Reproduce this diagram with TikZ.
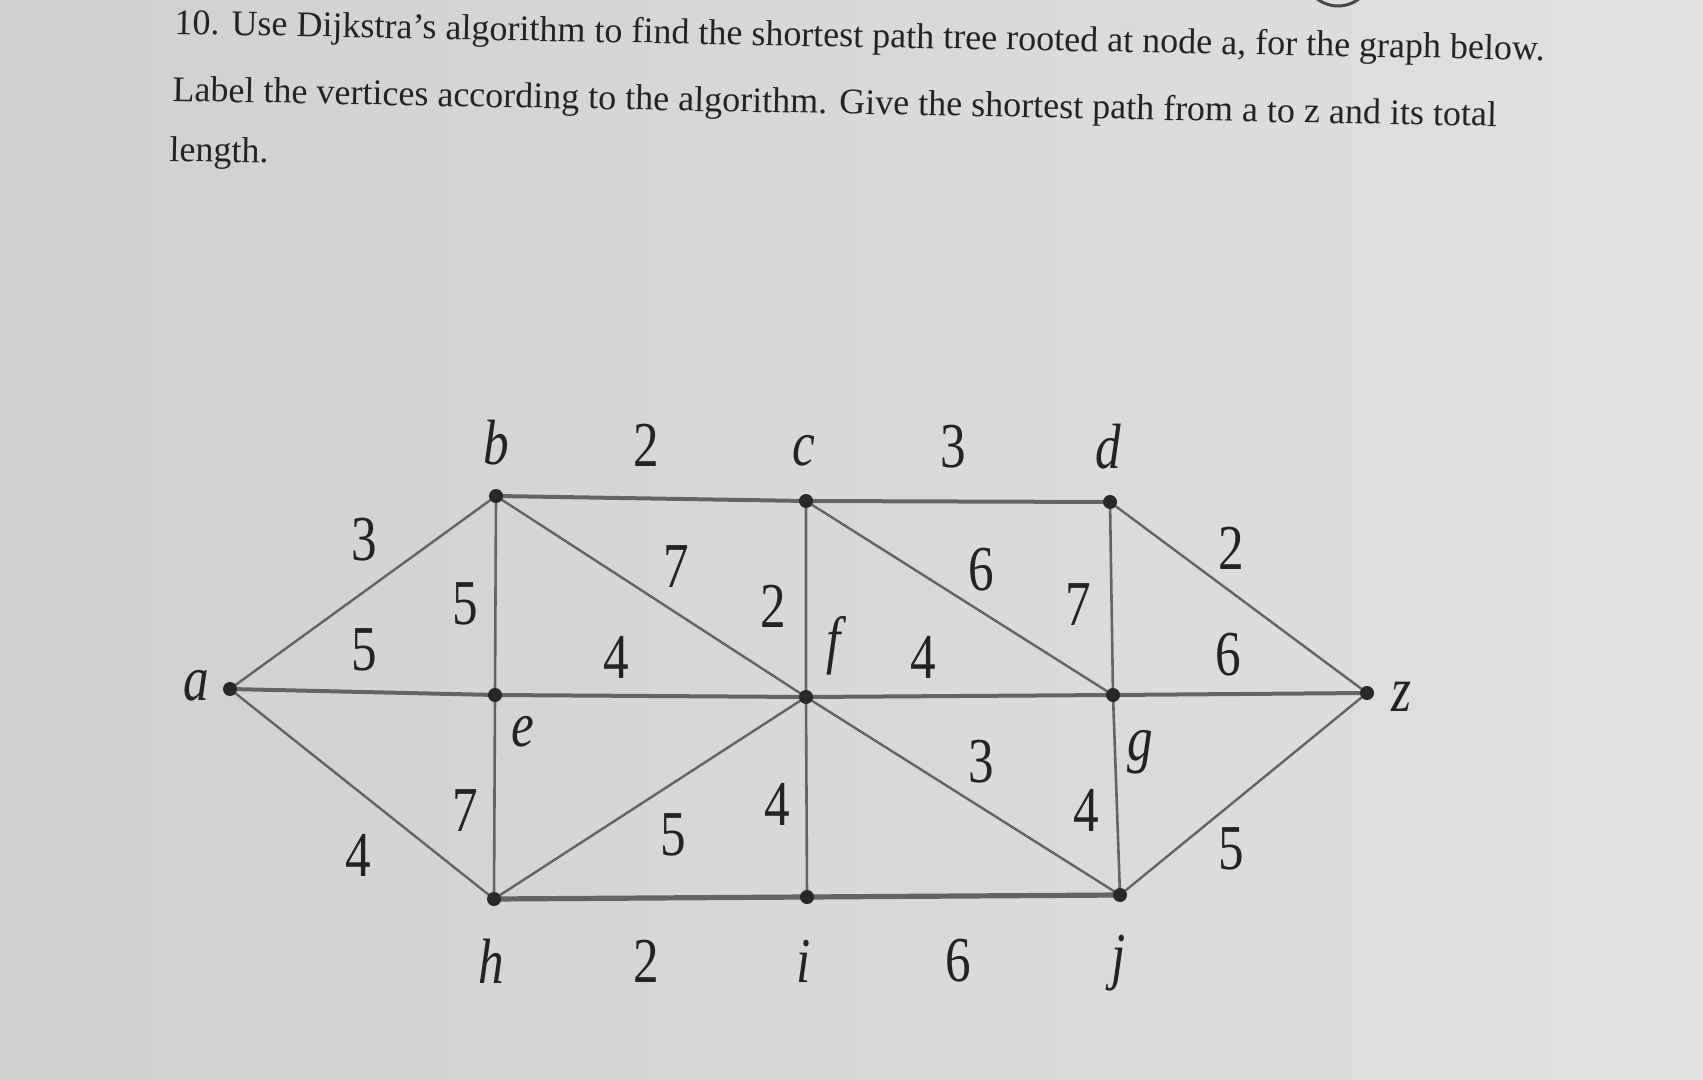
\documentclass[tikz,border=0pt]{standalone}
\usepackage{fontspec}
\setmainfont{Liberation Serif}
\definecolor{bgL}{RGB}{208,208,208}
\definecolor{bgR}{RGB}{225,225,225}
\definecolor{ink}{RGB}{35,35,35}
\definecolor{edgec}{RGB}{100,100,100}
\definecolor{dotc}{RGB}{40,40,40}
\begin{document}
\begin{tikzpicture}[x=0.5pt,y=-0.5pt,
  edgeline/.style={draw=edgec,line width=1.2pt,line cap=round},
  hline/.style={draw=edgec,line width=2pt,line cap=round},
  vline/.style={draw=edgec,line width=1.3pt},
  lbl/.style={text=ink,inner sep=0pt,font=\fontsize{32}{36}\selectfont},
  hdr/.style={text=ink,inner sep=0pt,anchor=base west,rotate=-1.1,font=\fontsize{18}{20}\selectfont}]
\clip (0,0) rectangle (1703,1080);
\shade[left color=bgL,right color=bgR] (0,0) rectangle (1703,1080);
\useasboundingbox (0,0) rectangle (1703,1080);
% partial circle at top
\draw[edgec!70!black,line width=1.5pt] (1338,-28) ellipse [x radius=34, y radius=34];
% header text
\node[hdr] (t1) at (174,34) {10. Use Dijkstra’s algorithm to find the shortest path tree rooted at node a, for the graph below.};
\node[hdr] (t2) at (172,101) {Label the vertices according to the algorithm. Give the shortest path from a to z and its total};
\node[hdr] (t3) at (169,161) {length.};
% vertices
\coordinate (a) at (230,689);
\coordinate (b) at (496,496);
\coordinate (c) at (806,501);
\coordinate (d) at (1110,502);
\coordinate (e) at (495,695);
\coordinate (f) at (806,697);
\coordinate (g) at (1113,695);
\coordinate (z) at (1367,693);
\coordinate (h) at (494,899);
\coordinate (i) at (807,897);
\coordinate (j) at (1120,895);
% edges
\draw[edgeline] (a) -- (b);
\draw[edgeline] (a) -- (h);
\draw[hline] (a) -- (e) -- (f) -- (g) -- (z);
\draw[hline] (b) -- (c) -- (d);
\draw[hline,line width=2.6pt] (h) -- (i) -- (j);
\draw[vline] (b) -- (e) -- (h);
\draw[vline] (c) -- (f) -- (i);
\draw[vline] (d) -- (g) -- (j);
\draw[edgeline] (b) -- (f);
\draw[edgeline] (c) -- (g);
\draw[edgeline] (d) -- (z);
\draw[edgeline] (h) -- (f);
\draw[edgeline] (f) -- (j);
\draw[edgeline] (j) -- (z);
% dots
\foreach \v in {a,b,c,d,e,f,g,z,h,i,j}
  \fill[dotc] (\v) circle [radius=7];
% vertex labels
\node[lbl] (la) at (196,686) {\scalebox{0.8}[1]{\itshape a}};
\node[lbl] (lb) at (496,443) {\scalebox{0.8}[1]{\itshape b}};
\node[lbl] (lc) at (804,451) {\scalebox{0.8}[1]{\itshape c}};
\node[lbl] (ld) at (1108,447) {\scalebox{0.8}[1]{\itshape d}};
\node[lbl] (le) at (523,732) {\scalebox{0.8}[1]{\itshape e}};
\node[lbl] (lf) at (834,646) {\scalebox{0.8}[1]{\itshape f}};
\node[lbl] (lg) at (1140,752) {\scalebox{0.8}[1]{\itshape g}};
\node[lbl] (lz) at (1401,697) {\scalebox{0.8}[1]{\itshape z}};
\node[lbl] (lh) at (491,961) {\scalebox{0.8}[1]{\itshape h}};
\node[lbl] (li) at (804,961) {\scalebox{0.8}[1]{\itshape i}};
\node[lbl] (lj) at (1119,963) {\scalebox{0.8}[1]{\itshape j}};
% weights
\node[lbl] (wab) at (364,540) {\scalebox{0.8}[1]{3}};
\node[lbl] (wae) at (364,650) {\scalebox{0.8}[1]{5}};
\node[lbl] (wah) at (358,855) {\scalebox{0.8}[1]{4}};
\node[lbl] (wbe) at (465,604) {\scalebox{0.8}[1]{5}};
\node[lbl] (wbc) at (646,445) {\scalebox{0.8}[1]{2}};
\node[lbl] (wbf) at (676,567) {\scalebox{0.8}[1]{7}};
\node[lbl] (wef) at (616,657) {\scalebox{0.8}[1]{4}};
\node[lbl] (wcf) at (773,606) {\scalebox{0.8}[1]{2}};
\node[lbl] (wcd) at (953,447) {\scalebox{0.8}[1]{3}};
\node[lbl] (wcg) at (981,570) {\scalebox{0.8}[1]{6}};
\node[lbl] (wfg) at (923,657) {\scalebox{0.8}[1]{4}};
\node[lbl] (wdg) at (1078,605) {\scalebox{0.8}[1]{7}};
\node[lbl] (wdz) at (1231,548) {\scalebox{0.8}[1]{2}};
\node[lbl] (wgz) at (1228,655) {\scalebox{0.8}[1]{6}};
\node[lbl] (weh) at (465,811) {\scalebox{0.8}[1]{7}};
\node[lbl] (whf) at (673,835) {\scalebox{0.8}[1]{5}};
\node[lbl] (wfi) at (777,804) {\scalebox{0.8}[1]{4}};
\node[lbl] (wfj) at (981,762) {\scalebox{0.8}[1]{3}};
\node[lbl] (wgj) at (1086,810) {\scalebox{0.8}[1]{4}};
\node[lbl] (wjz) at (1231,849) {\scalebox{0.8}[1]{5}};
\node[lbl] (whi) at (646,961) {\scalebox{0.8}[1]{2}};
\node[lbl] (wij) at (958,961) {\scalebox{0.8}[1]{6}};
\end{tikzpicture}
\end{document}
